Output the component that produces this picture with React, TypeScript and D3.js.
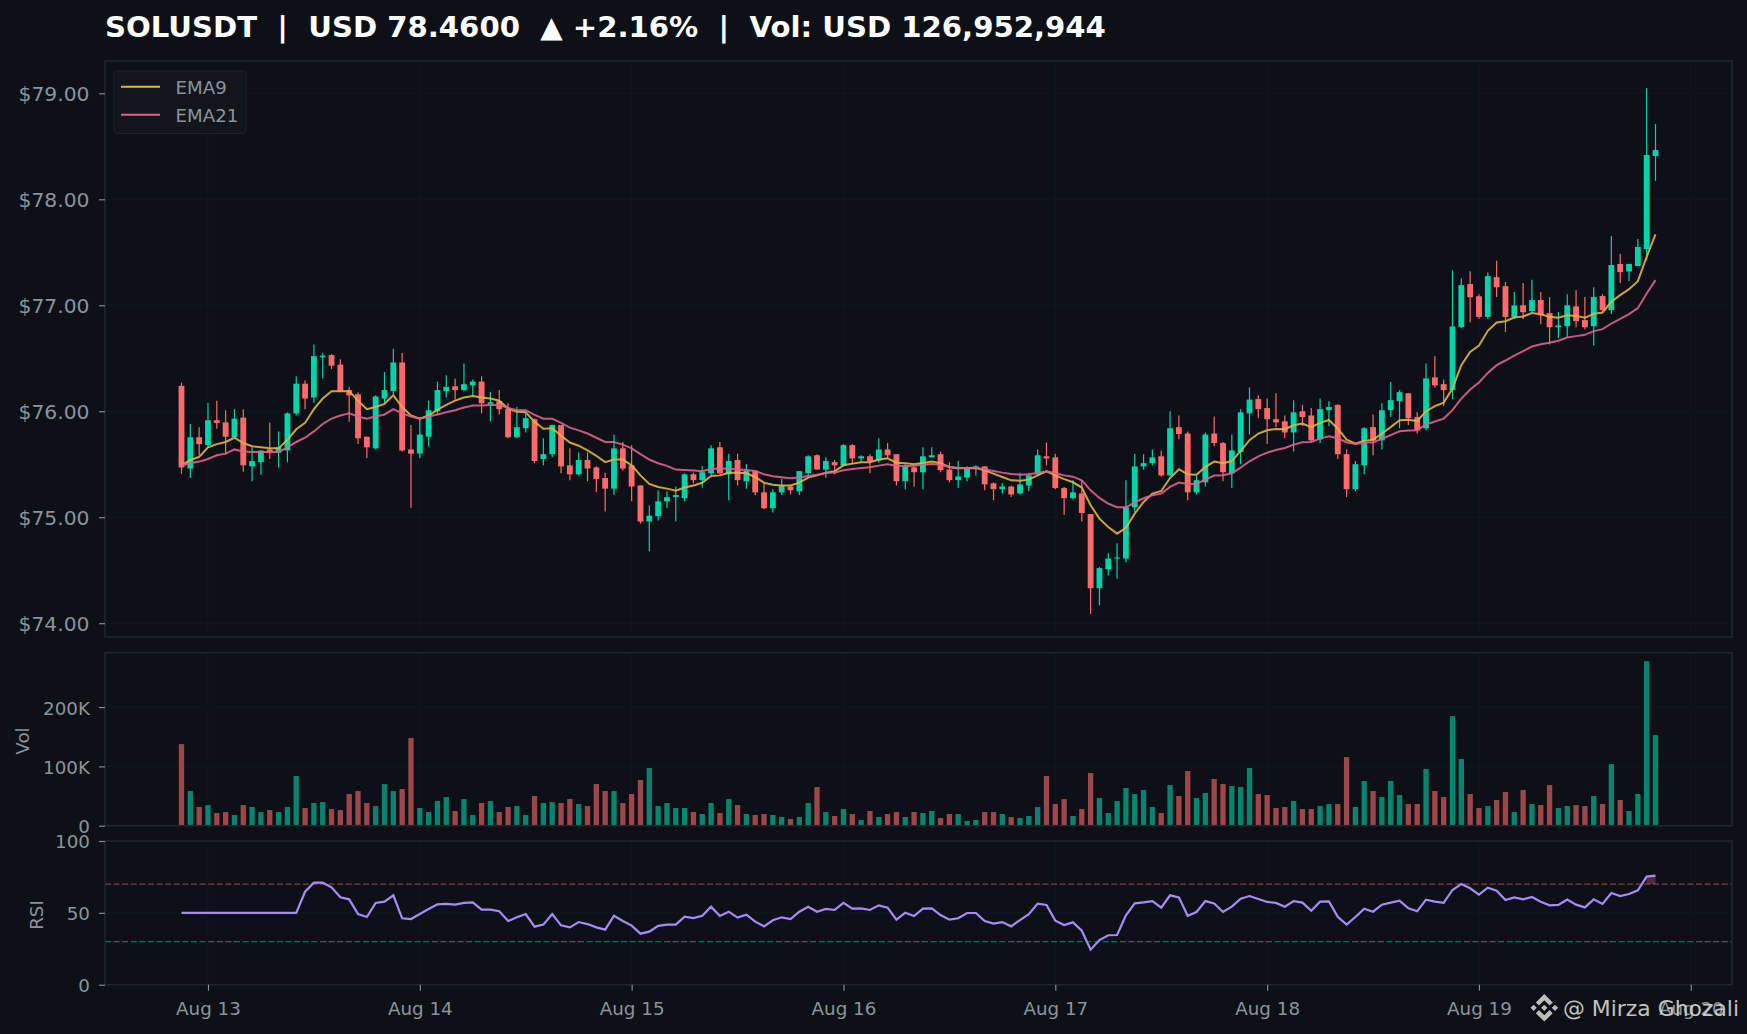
import React, { useEffect, useRef } from 'react';
import * as d3 from 'd3';

// hourly candles, Aug 12 21:00 -> Aug 19 20:00
const firstHour = new Date(Date.UTC(2024, 7, 12, 21));

const opens = [
  76.24, 75.46, 75.755, 75.68, 75.915, 75.895, 75.755, 75.94, 75.48, 75.52,
  75.64, 75.61, 75.63, 75.98, 76.26, 76.13, 76.51, 76.53, 76.44, 76.2,
  76.16, 75.76, 75.65, 76.12, 76.19, 76.46, 75.64, 75.6, 75.76, 76.0,
  76.19, 76.235, 76.2, 76.245, 76.28, 76.07, 76.095, 76.02, 75.755, 75.84,
  75.925, 75.55, 75.595, 75.87, 75.49, 75.405, 75.54, 75.47, 75.37, 75.27,
  75.65, 75.49, 75.3, 74.96, 75.01, 75.15, 75.19, 75.18, 75.405, 75.35,
  75.415, 75.66, 75.405, 75.54, 75.34, 75.44, 75.235, 75.085, 75.235, 75.29,
  75.245, 75.415, 75.585, 75.45, 75.52, 75.49, 75.68, 75.555, 75.575, 75.535,
  75.64, 75.595, 75.34, 75.47, 75.425, 75.565, 75.595, 75.45, 75.35, 75.375,
  75.47, 75.48, 75.32, 75.265, 75.29, 75.225, 75.3, 75.405, 75.575, 75.565,
  75.275, 75.18, 75.225, 75.03, 74.33, 74.51, 74.61, 74.61, 75.095, 75.48,
  75.51, 75.575, 75.395, 75.85, 75.79, 75.235, 75.33, 75.79, 75.7, 75.415,
  75.615, 75.98, 76.115, 76.03, 75.925, 75.905, 75.8, 76.0, 75.96, 75.735,
  76.01, 76.06, 75.595, 75.265, 75.49, 75.85, 75.725, 76.01, 76.095, 76.17,
  75.945, 75.84, 76.32, 76.255, 76.2, 76.795, 77.2, 77.085, 76.89, 77.265,
  77.18, 76.89, 77.0, 76.945, 77.05, 76.926, 76.793, 76.803, 76.99, 76.86,
  76.803, 77.087, 76.954, 77.39, 77.32, 77.37, 77.53, 78.408,
];

const highs = [
  76.27, 75.88, 75.85, 76.08, 76.1, 76.01, 76.02, 76.02, 75.66, 75.63,
  75.895, 75.81, 75.99, 76.33, 76.29, 76.63, 76.55, 76.54, 76.49, 76.23,
  76.18, 75.76, 76.15, 76.37, 76.59, 76.55, 75.87, 75.93, 76.1, 76.28,
  76.34, 76.31, 76.45, 76.3, 76.33, 76.18, 76.2, 76.075, 76.04, 75.98,
  75.93, 75.745, 75.875, 75.87, 75.65, 75.61, 75.61, 75.48, 75.42, 75.78,
  75.71, 75.68, 75.3, 75.11, 75.255, 75.245, 75.29, 75.415, 75.42, 75.48,
  75.68, 75.71, 75.6, 75.6, 75.5, 75.44, 75.32, 75.265, 75.36, 75.3,
  75.435, 75.585, 75.595, 75.565, 75.54, 75.69, 75.69, 75.585, 75.595, 75.745,
  75.7, 75.595, 75.5, 75.48, 75.66, 75.66, 75.62, 75.52, 75.53, 75.48,
  75.49, 75.48, 75.33, 75.32, 75.3, 75.42, 75.42, 75.64, 75.705, 75.6,
  75.285, 75.35, 75.35, 75.03, 74.53, 74.66, 74.755, 75.35, 75.6, 75.595,
  75.64, 75.63, 76.0, 75.96, 75.81, 75.395, 75.8, 75.95, 75.71, 75.78,
  76.02, 76.225, 76.15, 76.12, 76.17, 75.96, 76.105, 76.06, 76.03, 76.12,
  76.095, 76.065, 75.64, 75.53, 75.85, 75.97, 76.075, 76.275, 76.2, 76.17,
  75.99, 76.45, 76.52, 76.3, 77.33, 77.256, 77.32, 77.105, 77.31, 77.42,
  77.22, 77.125, 77.21, 77.24, 77.125, 77.077, 76.935, 77.105, 77.143, 77.077,
  77.17, 77.105, 77.653, 77.483, 77.39, 77.625, 79.05, 78.71,
];

const lows = [
  75.41, 75.37, 75.585, 75.66, 75.835, 75.59, 75.75, 75.43, 75.34, 75.4,
  75.55, 75.47, 75.52, 75.96, 76.02, 76.08, 76.31, 76.4, 76.18, 75.9,
  75.69, 75.56, 75.64, 76.08, 76.16, 75.62, 75.09, 75.56, 75.67, 75.97,
  76.13, 76.11, 76.19, 76.14, 75.98, 75.905, 75.97, 75.745, 75.745, 75.8,
  75.51, 75.49, 75.565, 75.415, 75.35, 75.395, 75.34, 75.235, 75.055, 75.21,
  75.44, 75.15, 74.94, 74.68, 74.97, 75.09, 74.96, 75.15, 75.32, 75.28,
  75.395, 75.405, 75.16, 75.3, 75.27, 75.21, 75.075, 75.045, 75.21, 75.215,
  75.21, 75.395, 75.45, 75.375, 75.405, 75.48, 75.5, 75.52, 75.415, 75.515,
  75.55, 75.3, 75.265, 75.29, 75.265, 75.565, 75.425, 75.33, 75.275, 75.34,
  75.395, 75.255, 75.16, 75.225, 75.19, 75.215, 75.245, 75.395, 75.49, 75.265,
  75.02, 75.17, 74.96, 74.09, 74.17, 74.45, 74.42, 74.575, 75.05, 75.45,
  75.49, 75.385, 75.385, 75.735, 75.16, 75.215, 75.29, 75.67, 75.34, 75.275,
  75.5, 75.78, 75.935, 75.69, 75.85, 75.745, 75.62, 75.86, 75.71, 75.7,
  75.86, 75.55, 75.19, 75.245, 75.405, 75.585, 75.64, 75.945, 75.84, 75.87,
  75.79, 75.82, 76.225, 76.05, 76.115, 76.785, 76.84, 76.87, 76.87, 77.077,
  76.746, 76.87, 76.87, 76.935, 76.82, 76.63, 76.69, 76.7, 76.793, 76.775,
  76.62, 76.945, 76.917, 77.21, 77.228, 77.37, 77.426, 78.172,
];

const closes = [
  75.47, 75.755, 75.69, 75.915, 75.89, 75.76, 75.93, 75.49, 75.53, 75.63,
  75.61, 75.66, 75.98, 76.26, 76.12, 76.52, 76.525, 76.43, 76.19, 76.15,
  75.745, 75.66, 76.14, 76.2, 76.46, 75.63, 75.6, 75.78, 76.01, 76.2,
  76.23, 76.2, 76.255, 76.28, 76.075, 76.085, 76.02, 75.755, 75.85, 75.935,
  75.53, 75.595, 75.87, 75.48, 75.405, 75.54, 75.46, 75.36, 75.27, 75.65,
  75.46, 75.29, 74.96, 75.015, 75.15, 75.19, 75.21, 75.405, 75.35, 75.425,
  75.65, 75.415, 75.53, 75.35, 75.44, 75.235, 75.085, 75.235, 75.3, 75.255,
  75.435, 75.575, 75.45, 75.53, 75.49, 75.68, 75.555, 75.575, 75.53, 75.64,
  75.585, 75.34, 75.48, 75.425, 75.575, 75.585, 75.445, 75.35, 75.385, 75.46,
  75.48, 75.31, 75.265, 75.29, 75.215, 75.31, 75.395, 75.585, 75.555, 75.275,
  75.18, 75.235, 75.04, 74.33, 74.52, 74.61, 74.62, 75.095, 75.48, 75.51,
  75.565, 75.395, 75.84, 75.785, 75.235, 75.35, 75.78, 75.7, 75.425, 75.63,
  75.99, 76.11, 76.02, 75.925, 75.895, 75.8, 75.99, 75.945, 75.725, 76.02,
  76.04, 75.595, 75.265, 75.5, 75.84, 75.725, 76.01, 76.105, 76.18, 75.935,
  75.82, 76.31, 76.245, 76.2, 76.8, 77.19, 77.076, 76.89, 77.275, 77.17,
  76.89, 77.0, 76.935, 77.05, 76.905, 76.793, 76.81, 77.0, 76.85, 76.793,
  77.077, 76.954, 77.38, 77.313, 77.39, 77.55, 78.418, 78.465,
];

const ema9 = [
  75.49, 75.54, 75.57, 75.66, 75.69, 75.71, 75.75, 75.7, 75.67, 75.66,
  75.65, 75.65, 75.73, 75.83, 75.89, 76.02, 76.12, 76.19, 76.19, 76.19,
  76.1, 76.02, 76.04, 76.07, 76.15, 76.04, 75.96, 75.93, 75.96, 76.015,
  76.06, 76.1, 76.13, 76.145, 76.13, 76.12, 76.1, 76.025, 75.996, 75.99,
  75.9, 75.835, 75.84, 75.77, 75.705, 75.675, 75.63, 75.58, 75.52, 75.545,
  75.545, 75.49, 75.395, 75.315, 75.285, 75.27, 75.25, 75.28, 75.3, 75.325,
  75.39, 75.395, 75.42, 75.42, 75.415, 75.38, 75.326, 75.307, 75.3, 75.3,
  75.326, 75.374, 75.395, 75.42, 75.433, 75.49, 75.506, 75.518, 75.52, 75.544,
  75.556, 75.515, 75.509, 75.5, 75.512, 75.525, 75.509, 75.474, 75.462, 75.462,
  75.465, 75.443, 75.411, 75.38, 75.348, 75.345, 75.355, 75.395, 75.433, 75.395,
  75.36, 75.33, 75.28, 75.113, 74.987, 74.908, 74.845, 74.9, 75.034, 75.144,
  75.223, 75.248, 75.37, 75.453, 75.405, 75.4, 75.475, 75.525, 75.51, 75.53,
  75.626, 75.727, 75.79, 75.821, 75.833, 75.83, 75.868, 75.884, 75.849, 75.89,
  75.918, 75.837, 75.733, 75.695, 75.723, 75.73, 75.79, 75.85, 75.915, 75.919,
  75.909, 76.0, 76.048, 76.082, 76.214, 76.435, 76.56, 76.62, 76.759, 76.838,
  76.85, 76.885, 76.894, 76.926, 76.916, 76.891, 76.882, 76.907, 76.9, 76.882,
  76.92, 76.932, 77.033, 77.096, 77.152, 77.228, 77.458, 77.669,
];

const ema21 = [
  75.49, 75.51, 75.525, 75.55, 75.585, 75.6, 75.64, 75.62, 75.615, 75.615,
  75.615, 75.615, 75.66, 75.71, 75.75, 75.81, 75.88, 75.93, 75.96, 75.98,
  75.95, 75.93, 75.95, 75.97, 76.02, 75.98, 75.95, 75.93, 75.95, 75.97,
  75.99, 76.01, 76.035, 76.055, 76.055, 76.06, 76.06, 76.03, 76.01, 76.01,
  75.965, 75.93, 75.93, 75.89, 75.845, 75.82, 75.79, 75.75, 75.71, 75.71,
  75.685, 75.65, 75.595, 75.545, 75.51, 75.485, 75.45, 75.445, 75.44, 75.435,
  75.455, 75.46, 75.46, 75.45, 75.445, 75.437, 75.405, 75.386, 75.377, 75.367,
  75.374, 75.39, 75.402, 75.418, 75.421, 75.443, 75.455, 75.465, 75.471, 75.487,
  75.5, 75.487, 75.484, 75.487, 75.496, 75.503, 75.496, 75.474, 75.465, 75.465,
  75.468, 75.452, 75.437, 75.421, 75.408, 75.402, 75.405, 75.418, 75.433, 75.415,
  75.395, 75.383, 75.349, 75.254, 75.182, 75.128, 75.094, 75.094, 75.141, 75.179,
  75.207, 75.223, 75.286, 75.327, 75.314, 75.317, 75.355, 75.393, 75.396, 75.415,
  75.468, 75.528, 75.575, 75.61, 75.635, 75.654, 75.685, 75.708, 75.711, 75.742,
  75.764, 75.745, 75.708, 75.692, 75.704, 75.708, 75.74, 75.775, 75.811, 75.818,
  75.821, 75.875, 75.903, 75.931, 76.01, 76.12, 76.205, 76.271, 76.362, 76.435,
  76.479, 76.526, 76.567, 76.611, 76.633, 76.646, 76.665, 76.696, 76.709, 76.721,
  76.756, 76.775, 76.828, 76.872, 76.916, 76.973, 77.112, 77.237,
];

// thousands of SOL per hour
const volumesK = [
  137.6, 58.4, 31.5, 34.8, 21.3, 23.0, 18.0, 34.8, 31.5, 23.0,
  26.4, 23.0, 31.5, 83.7, 29.8, 38.2, 39.9, 28.1, 26.4, 53.4,
  58.4, 38.2, 33.1, 70.2, 58.4, 61.8, 147.8, 29.8, 23.0, 41.6,
  48.3, 24.7, 44.9, 18.0, 38.2, 41.6, 23.0, 31.5, 33.1, 18.0,
  50.0, 38.2, 39.9, 38.2, 44.9, 36.5, 33.1, 70.2, 58.4, 58.4,
  38.2, 53.4, 77.0, 97.2, 33.1, 38.2, 29.8, 29.8, 23.0, 19.7,
  38.2, 21.3, 44.9, 34.8, 19.7, 18.0, 19.7, 18.0, 14.6, 11.2,
  14.6, 38.2, 65.2, 23.0, 16.3, 28.1, 19.7, 9.6, 24.7, 14.6,
  19.7, 23.0, 14.6, 23.0, 21.3, 24.7, 12.9, 19.7, 19.7, 7.9,
  9.6, 23.0, 23.0, 19.7, 14.6, 12.9, 16.3, 31.5, 83.7, 36.5,
  44.9, 16.3, 28.1, 88.8, 46.6, 21.3, 41.6, 63.5, 53.4, 60.1,
  31.5, 21.3, 68.5, 50.0, 92.1, 46.6, 55.1, 78.7, 70.2, 66.9,
  65.2, 97.2, 53.4, 51.7, 29.8, 31.5, 41.6, 28.1, 28.1, 33.1,
  36.5, 36.5, 115.7, 31.5, 75.3, 58.4, 48.3, 75.3, 51.7, 36.5,
  36.5, 95.5, 58.4, 48.3, 184.8, 112.4, 53.4, 29.8, 33.1, 43.3,
  56.7, 23.0, 60.1, 36.5, 34.8, 68.5, 29.8, 33.1, 34.8, 33.1,
  50.0, 36.5, 103.9, 43.3, 24.7, 53.4, 277.5, 152.8,
];

const rsi = [
  50, 50, 50, 50, 50, 50, 50, 50, 50, 50,
  50, 50, 50, 50, 64.7, 71, 71, 67.8, 60.8, 59.4,
  49.2, 47.1, 56.9, 57.8, 62.2, 46.2, 45.7, 49.2, 52.7, 55.9,
  56.2, 55.7, 56.9, 57.3, 52.2, 52.2, 51.1, 44.3, 46.9, 49.2,
  40.4, 41.8, 49.2, 41.3, 39.9, 43.6, 42.2, 39.9, 38.3, 48.0,
  44.3, 41.1, 35.5, 36.9, 40.9, 41.8, 41.8, 47.3, 46.4, 48.0,
  54.3, 47.8, 50.8, 46.7, 48.7, 43.9, 40.6, 44.8, 46.9, 45.7,
  50.8, 54.3, 50.8, 52.7, 52.0, 56.9, 52.9, 53.1, 52.0, 55.2,
  53.6, 45.3, 50.1, 47.8, 52.9, 53.1, 48.5, 45.3, 46.2, 49.9,
  49.9, 44.3, 42.5, 43.6, 40.6, 45.0, 49.0, 56.4, 55.5, 44.6,
  41.5, 43.4, 37.6, 24.4, 31.1, 34.4, 34.6, 48.3, 56.6, 57.3,
  58.2, 53.6, 62.2, 60.8, 48.0, 50.6, 58.2, 56.6, 50.6, 54.3,
  59.9, 61.7, 59.6, 57.6, 56.9, 54.3, 58.2, 57.1, 51.5, 57.8,
  58.0, 47.3, 41.8, 47.1, 52.9, 50.8, 55.7, 57.1, 58.5, 53.1,
  51.1, 59.2, 57.8, 56.9, 65.9, 70.1, 67.1, 62.7, 67.5, 65.4,
  58.9, 60.8, 59.4, 61.0, 57.8, 55.2, 55.5, 59.2, 55.7, 53.8,
  59.4, 56.2, 63.8, 61.7, 63.1, 65.7, 75.2, 75.9,
];

const priceTicks = [74, 75, 76, 77, 78, 79];
const volTicks = [0, 100, 200];
const rsiTicks = [0, 50, 100];
const dayTicks = [13, 14, 15, 16, 17, 18, 19, 20];
const titleText = 'SOLUSDT  |  USD 78.4600  ▲ +2.16%  |  Vol: USD 126,952,944';
const emaLegend = ['EMA9', 'EMA21'];

const BG = '#0d1117';
const SPINE = '#21262d';
const GRID = '#12171e';
const TEXT = '#8b949e';
const UP = '#00d4aa';
const DOWN = '#ff6b6b';
const EMA9_COLOR = '#e3b341';
const EMA21_COLOR = '#e0608f';
const RSI_COLOR = '#a78bfa';
const FONT = '"DejaVu Sans", sans-serif';

const binancePath = 'M16.624 13.9202l2.7175 2.7154-7.353 7.353-7.353-7.352 2.7175-2.7164 4.6355 4.6595 4.6356-4.6595zm4.6366-4.6366L24 12l-2.7154 2.7164L18.5682 12l2.6924-2.7164zm-9.272.001l2.7163 2.6914-2.7164 2.7174v-.001L9.2721 12l2.7164-2.7154zm-9.2722-.001L5.4088 12l-2.6914 2.6924L0 12l2.7164-2.7164zM11.9885.0115l7.353 7.329-2.7174 2.7154-4.6356-4.6356-4.6355 4.6595-2.7174-2.7154 7.353-7.353z';

const App: React.FC = () => {
    const ref = useRef<SVGSVGElement>(null);

    useEffect(() => {
        if (!ref.current) return;
        document.body.style.margin = '0';
        document.body.style.background = BG;

        const svg = d3.select(ref.current);
        svg.selectAll('*').remove();

        const left = 105;
        const right = 1732;
        const panels = {
            price: { top: 61, bottom: 637 },
            vol: { top: 652.7, bottom: 825.7 },
            rsi: { top: 841, bottom: 984.7 },
        };

        const times = opens.map((_, i) => d3.utcHour.offset(firstHour, i));
        const x = d3.scaleUtc()
            .domain([new Date(Date.UTC(2024, 7, 12, 12, 20)), new Date(Date.UTC(2024, 7, 20, 4, 40))])
            .range([left, right]);
        const yPrice = d3.scaleLinear().domain([73.87, 79.305]).range([panels.price.bottom, panels.price.top]);
        const yVol = d3.scaleLinear().domain([0, 291.7]).range([panels.vol.bottom, panels.vol.top]);
        const yRsi = d3.scaleLinear().domain([0, 100]).range([panels.rsi.bottom, panels.rsi.top]);

        const dayDates = dayTicks.map(d => new Date(Date.UTC(2024, 7, d)));
        const hourPx = x(times[1]) - x(times[0]);
        const bodyW = hourPx * 0.66;
        const volW = hourPx * 0.6;

        const styleAxis = (g: any, size: number, dy?: string) => {
            g.select('.domain').remove();
            g.selectAll('line').attr('stroke', TEXT).attr('stroke-width', 1.1);
            g.selectAll('text').attr('fill', TEXT).attr('font-family', FONT).attr('font-size', size);
            if (dy) g.selectAll('text').attr('dy', dy);
        };

        // grid + frame for each panel
        const panel = (key: 'price' | 'vol' | 'rsi', ticks: number[], y: d3.ScaleLinear<number, number>) => {
            const p = panels[key];
            const g = svg.append('g');
            g.selectAll('line.v').data(dayDates).enter().append('line')
                .attr('x1', d => x(d)).attr('x2', d => x(d))
                .attr('y1', p.top).attr('y2', p.bottom)
                .attr('stroke', GRID).attr('stroke-width', 1);
            g.selectAll('line.h').data(ticks).enter().append('line')
                .attr('x1', left).attr('x2', right)
                .attr('y1', d => y(d)).attr('y2', d => y(d))
                .attr('stroke', GRID).attr('stroke-width', 1);
        };
        panel('price', priceTicks, yPrice);
        panel('vol', volTicks, yVol);
        panel('rsi', rsiTicks, yRsi);

        // candles
        const candles = svg.append('g');
        opens.forEach((o, i) => {
            const c = closes[i];
            const col = c >= o ? UP : DOWN;
            const cx = x(times[i]);
            candles.append('line')
                .attr('x1', cx).attr('x2', cx)
                .attr('y1', yPrice(highs[i])).attr('y2', yPrice(lows[i]))
                .attr('stroke', col).attr('stroke-width', 1.2);
            candles.append('rect')
                .attr('x', cx - bodyW / 2).attr('width', bodyW)
                .attr('y', yPrice(Math.max(o, c)))
                .attr('height', Math.max(1, Math.abs(yPrice(o) - yPrice(c))))
                .attr('fill', col);
        });

        const priceLine = d3.line<number>()
            .x((_, i) => x(times[i]))
            .y(d => yPrice(d));
        svg.append('path').attr('d', priceLine(ema9))
            .attr('fill', 'none').attr('stroke', EMA9_COLOR).attr('stroke-width', 2).attr('opacity', 0.9);
        svg.append('path').attr('d', priceLine(ema21))
            .attr('fill', 'none').attr('stroke', EMA21_COLOR).attr('stroke-width', 2).attr('opacity', 0.9);

        // volume bars
        svg.append('g').selectAll('rect').data(volumesK).enter().append('rect')
            .attr('x', (_, i) => x(times[i]) - volW / 2)
            .attr('width', volW)
            .attr('y', d => yVol(d))
            .attr('height', d => yVol(0) - yVol(d))
            .attr('fill', (_, i) => closes[i] >= opens[i] ? UP : DOWN)
            .attr('opacity', 0.6);

        // RSI
        const rsiArea = d3.area<number>()
            .defined(d => d >= 70)
            .x((_, i) => x(times[i]))
            .y0(yRsi(70))
            .y1(d => yRsi(d));
        svg.append('path').attr('d', rsiArea(rsi)).attr('fill', DOWN).attr('opacity', 0.3);

        [[70, DOWN], [30, UP]].forEach(([v, col]) => {
            svg.append('line')
                .attr('x1', left).attr('x2', right)
                .attr('y1', yRsi(v as number)).attr('y2', yRsi(v as number))
                .attr('stroke', col as string).attr('stroke-width', 1.1)
                .attr('stroke-dasharray', '6 2.6').attr('opacity', 0.5);
        });
        const rsiLine = d3.line<number>()
            .x((_, i) => x(times[i]))
            .y(d => yRsi(d));
        svg.append('path').attr('d', rsiLine(rsi))
            .attr('fill', 'none').attr('stroke', RSI_COLOR).attr('stroke-width', 2.2);

        // frames
        Object.values(panels).forEach(p => {
            svg.append('rect')
                .attr('x', left).attr('y', p.top)
                .attr('width', right - left).attr('height', p.bottom - p.top)
                .attr('fill', 'none').attr('stroke', SPINE).attr('stroke-width', 1.5);
        });

        // axes
        svg.append('g').attr('transform', `translate(${left},0)`)
            .call(d3.axisLeft(yPrice).tickValues(priceTicks).tickSize(6).tickPadding(9.5).tickFormat(d3.format('$.2f') as any))
            .call((g: any) => styleAxis(g, 20.3, '0.37em'));
        svg.append('g').attr('transform', `translate(${left},0)`)
            .call(d3.axisLeft(yVol).tickValues(volTicks).tickSize(6).tickPadding(9).tickFormat((d: any) => d === 0 ? '0' : `${d}K`))
            .call((g: any) => styleAxis(g, 18.3, '0.38em'));
        svg.append('g').attr('transform', `translate(${left},0)`)
            .call(d3.axisLeft(yRsi).tickValues(rsiTicks).tickSize(6).tickPadding(9).tickFormat(d3.format('d') as any))
            .call((g: any) => styleAxis(g, 18.3, '0.38em'));
        svg.append('g').attr('transform', `translate(0,${panels.rsi.bottom})`)
            .call(d3.axisBottom(x).tickValues(dayDates).tickSize(6).tickPadding(11).tickFormat(d3.utcFormat('%b %-d') as any))
            .call((g: any) => styleAxis(g, 18.3));

        // axis titles
        svg.append('text').attr('transform', `translate(29,741) rotate(-90)`)
            .attr('text-anchor', 'middle').attr('fill', TEXT)
            .attr('font-family', FONT).attr('font-size', 18.3).text('Vol');
        svg.append('text').attr('transform', `translate(43,915) rotate(-90)`)
            .attr('text-anchor', 'middle').attr('fill', TEXT)
            .attr('font-family', FONT).attr('font-size', 18.3).text('RSI');

        // title
        svg.append('text').attr('x', 105).attr('y', 37)
            .attr('fill', '#ffffff').attr('font-family', FONT)
            .attr('font-weight', 'bold').attr('font-size', 29.15)
            .style('white-space', 'pre').text(titleText);

        // legend
        const legend = svg.append('g');
        legend.append('rect').attr('x', 114).attr('y', 71).attr('width', 132).attr('height', 62.5).attr('rx', 3.5)
            .attr('fill', '#12161c').attr('stroke', '#1c2128').attr('stroke-width', 1.2);
        emaLegend.forEach((name, i) => {
            const ly = 86.8 + i * 28;
            legend.append('line').attr('x1', 121).attr('x2', 160).attr('y1', ly).attr('y2', ly)
                .attr('stroke', i === 0 ? EMA9_COLOR : EMA21_COLOR).attr('stroke-width', 2);
            legend.append('text').attr('x', 175.5).attr('y', ly + 7.5)
                .attr('fill', TEXT).attr('font-family', FONT).attr('font-size', 18.2).text(name);
        });

        // watermark
        svg.append('path').attr('d', binancePath)
            .attr('transform', 'translate(1530.5,994) scale(1.15)')
            .attr('fill', '#d0d0d0').attr('opacity', 0.9);
        svg.append('text').attr('x', 1563).attr('y', 1016)
            .attr('fill', '#d6d6d6').attr('opacity', 0.9)
            .attr('font-family', FONT).attr('font-size', 21.9).text('@ Mirza Ghozali');
    }, []);

    return <svg ref={ref} width={1747} height={1034} style={{ display: 'block', background: BG }}></svg>;
};

export default App;
